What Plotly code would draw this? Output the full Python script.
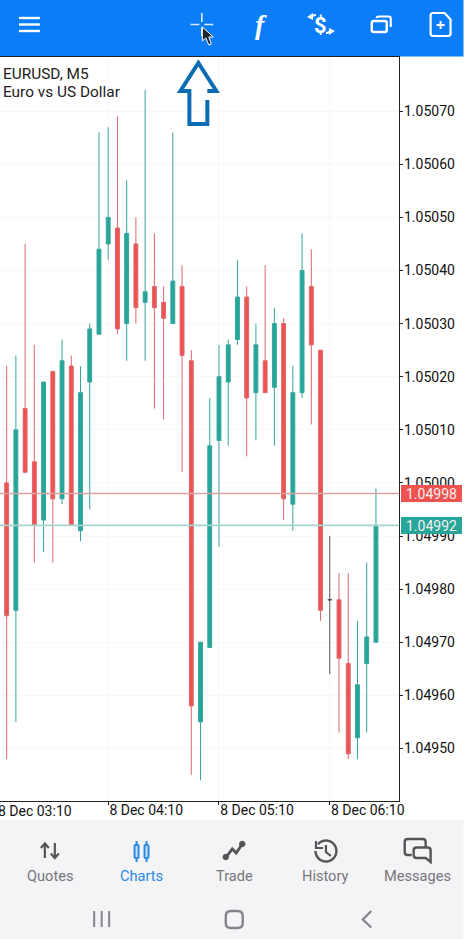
import re, math
import plotly.graph_objects as go

# ---------- chart data (EURUSD M5, 8 Dec) ----------
times = ["03:15","03:20","03:25","03:30","03:35","03:40","03:45","03:50","03:55","04:00",
         "04:05","04:10","04:15","04:20","04:25","04:30","04:35","04:40","04:45","04:50",
         "04:55","05:00","05:05","05:10","05:15","05:20","05:25","05:30","05:35","05:40",
         "05:45","05:50","05:55","06:00","06:05","06:10","06:15","06:20","06:25","06:30","06:35"]
opens = [1.05000,1.04976,1.05014,1.05004,1.04993,1.05021,1.04997,1.05022,1.04991,1.05019,
         1.05028,1.05045,1.05048,1.05030,1.05045,1.05034,1.05037,1.05034,1.05030,1.05037,
         1.05023,1.04955,1.04969,1.05008,1.05019,1.05027,1.05035,1.05017,1.05023,1.05018,
         1.05030,1.04996,1.05017,1.05037,1.05025,1.04978,1.04978,1.04966,1.04952,1.04966,1.04970]
highs = [1.05022,1.05024,1.05045,1.05026,1.05019,1.05021,1.05027,1.05024,1.05022,1.05030,
         1.05066,1.05067,1.05069,1.05057,1.05050,1.05074,1.05047,1.05037,1.05066,1.05041,
         1.05025,1.04970,1.05016,1.05026,1.05027,1.05042,1.05037,1.05030,1.05041,1.05033,
         1.05031,1.05022,1.05047,1.05044,1.05025,1.04990,1.04983,1.04983,1.04974,1.04985,1.04999]
lows  = [1.04948,1.04955,1.05002,1.04985,1.04987,1.04985,1.04996,1.04992,1.04989,1.04995,
         1.05028,1.05042,1.05028,1.05023,1.05030,1.05023,1.05014,1.05012,1.05030,1.05002,
         1.04945,1.04944,1.04969,1.04988,1.05007,1.05026,1.05005,1.05008,1.05017,1.05007,
         1.04993,1.04991,1.05016,1.05011,1.04974,1.04964,1.04953,1.04948,1.04948,1.04953,1.04970]
closes= [1.04975,1.05010,1.05002,1.04992,1.05019,1.04997,1.05023,1.04992,1.05017,1.05029,
         1.05044,1.05050,1.05029,1.05047,1.05033,1.05036,1.05033,1.05031,1.05038,1.05024,
         1.04958,1.04970,1.05007,1.05020,1.05026,1.05035,1.05016,1.05026,1.05017,1.05030,
         1.04997,1.05017,1.05040,1.05026,1.04976,1.04978,1.04967,1.04949,1.04962,1.04971,1.04992]
day = "2022-12-08 "
bid_price = 1.04998
ask_price = 1.04992
price_ticks = [1.04950,1.04960,1.04970,1.04980,1.04990,1.05000,1.05010,1.05020,1.05030,1.05040,1.05050,1.05060,1.05070]
time_ticks = ["04:10","05:10","06:10"]
time_tick_labels = ["8 Dec 04:10","8 Dec 05:10","8 Dec 06:10"]
clipped_time_label = "8 Dec 03:10"
nav_labels = ["Quotes","Charts","Trade","History","Messages"]

# ---------- page geometry ----------
W, H = 469, 939
XSPAN = 465.5        # horizontal pixels of the photographed app screen
UP, DOWN = "#26a69a", "#ef5350"
WICK_UP, WICK_DOWN = "#35a69b", "#e0656c"
FONT = "Roboto"

def fx(x): return x / XSPAN
def fy(y): return 1 - y / H
def path(s):
    return re.sub(r"(-?[\d.]+),(-?[\d.]+)", lambda m: f"{fx(float(m[1])):.5f},{fy(float(m[2])):.5f}", s)

shapes, annos = [], []
def stroke(s, color, width=2, fill=None):
    shapes.append(dict(type="path", xref="paper", yref="paper", path=path(s),
                       line=dict(color=color, width=width), fillcolor=fill, layer="above"))
def solid(s, color):
    shapes.append(dict(type="path", xref="paper", yref="paper", path=path(s),
                       line=dict(width=0), fillcolor=color, layer="above"))
def rect(x0, y0, x1, y1, color):
    shapes.append(dict(type="rect", xref="paper", yref="paper", x0=fx(x0), x1=fx(x1), y0=fy(y1), y1=fy(y0),
                       line=dict(width=0), fillcolor=color, layer="below"))
def text(x, y, t, size, color, anchor="left", family=FONT):
    annos.append(dict(xref="paper", yref="paper", x=fx(x), y=fy(y), text=t, showarrow=False, xanchor=anchor,
                      yanchor="middle", borderpad=0, borderwidth=0,
                      font=dict(family=family, size=size, color=color)))
def ring(cx, cy, r, a0, a1, n=24):
    pts = [(cx + r*math.cos(math.radians(a0 + (a1-a0)*i/n)), cy + r*math.sin(math.radians(a0 + (a1-a0)*i/n))) for i in range(n+1)]
    return "M" + " L".join(f"{a:.2f},{b:.2f}" for a, b in pts)
def rrect(x0, y0, x1, y1, r):
    return (f"M{x0+r},{y0} L{x1-r},{y0} Q{x1},{y0} {x1},{y0+r} L{x1},{y1-r} Q{x1},{y1} {x1-r},{y1} "
            f"L{x0+r},{y1} Q{x0},{y1} {x0},{y1-r} L{x0},{y0+r} Q{x0},{y0} {x0+r},{y0} Z")

# ---------- app chrome ----------
rect(0, 0, 465, 56.5, "#0b7df7")
rect(0, 820, 465, 939, "#f4f3f6")
for y in (18, 24.5, 31):
    stroke(f"M19,{y} L40,{y}", "#ffffff", 2.4)
# crosshair and pointer
stroke("M191,24.5 L200,24.5 M205,24.5 L214,24.5 M202.5,13 L202.5,22 M202.5,27 L202.5,36", "#dcebff", 1.6)
stroke("M203,27 L203,41 L206.5,38 L209.5,45 L212,44 L209.5,37 L214,37 Z", "#ffffff", 1, "#1c2430")
text(262, 24, "<b><i>f</i></b>", 28, "#ffffff", "center", "Liberation Serif")
text(322, 25, "<b>$</b>", 22, "#ffffff", "center")
stroke("M317,15 Q313,15 312,19", "#ffffff", 2.2)
solid("M308,17 L314,13 L314,20 Z", "#ffffff")
stroke("M327,33 Q331,33 332,29", "#ffffff", 2.2)
solid("M336,31 L330,35 L330,28 Z", "#ffffff")
stroke(rrect(373, 21, 388, 32, 2), "#ffffff", 2.4)
stroke("M378,18 Q378,16.5 380,16.5 L390,16.5 Q392,16.5 392,18.5 L392,27", "#ffffff", 2.2)
stroke("M434.5,13 L446,13 L452,19.5 L452,33.5 Q452,36 449.5,36 L434.5,36 Q432,36 432,33.5 L432,15.5 Q432,13 434.5,13 Z", "#ffffff", 2.2)
stroke("M442,21 L442,29 M438,25 L446,25", "#ffffff", 2)
# annotation arrow
stroke("M208,100 L208,124 L190,124 L190,91 L181,91 L199,63 L217,91 L208,91", "#0b6cb3", 4)
# symbol title
text(3, 74, "EURUSD, M5", 15.4, "#222222")
text(3, 92, "Euro vs US Dollar", 15.4, "#222222")

# ---------- bottom navigation ----------
GREY, BLUE = "#555558", "#2a8be0"
for x, label in zip((50, 142, 235, 327, 419), nav_labels):
    text(x, 876, label, 14.6, BLUE if label == "Charts" else "#77777b", "center")
stroke("M45,858 L45,844 M41,848 L45,843.5 L49,848", GREY, 2.2)
stroke("M55,843 L55,858 M51,853.5 L55,858 L59,853.5", GREY, 2.2)
stroke("M137,841 L137,862 M147,841 L147,862", BLUE, 2)
stroke(rrect(135, 845, 139, 858, 1), BLUE, 2, "#cfe4f8")
stroke(rrect(145, 845, 149, 858, 1), BLUE, 2, "#cfe4f8")
stroke("M227,857 L233,849 L237,853 L243,844", GREY, 2.8)
solid(ring(226.5, 857, 3.2, 0, 360) + " Z", GREY)
solid(ring(243, 844, 3.2, 0, 360) + " Z", GREY)
stroke(ring(327, 851, 10.5, -140, 180, 30), GREY, 2.4)
stroke("M317,841 L317,848 L324,848", GREY, 2.2)
stroke("M327,845 L327,852 L332,856", GREY, 2.2)
stroke("M413,855 L409,855 Q406,855 406,852 L406,842 Q406,839 409,839 L424,839 Q427,839 427,842 L427,847", GREY, 2.4)
stroke("M418,847.5 L429,847.5 Q432,847.5 432,850.5 L432,862 L427,858 L418,858 Q415,858 415,855 L415,850.5 Q415,847.5 418,847.5 Z", GREY, 2.4)
stroke("M94.5,911 L94.5,927 M102,911 L102,927 M109.5,911 L109.5,927", "#85858a", 2)
stroke(rrect(226.5, 911, 243.5, 928, 5), "#85858a", 2.4)
stroke("M372.5,911 L364,919.5 L372.5,927.5", "#85858a", 2.2)

# ---------- price lines and their tags (on the price axis scale) ----------
for price, color, line_color in ((bid_price, DOWN, "#d9a3a3"), (ask_price, UP, "#a4d6cf")):
    shapes.append(dict(type="line", xref="x", yref="y", x0=day + "03:00", x1=day + "06:50",
                       y0=price, y1=price, line=dict(color=line_color, width=1.6), layer="above"))
    annos.append(dict(xref="paper", yref="y", x=fx(402), y=price, text=f"{price:.5f}", showarrow=False,
                      xanchor="left", yanchor="middle", bgcolor=color, borderpad=1, borderwidth=0,
                      width=59, height=15, align="center",
                      font=dict(family=FONT, size=14, color="#f7eeee")))
annos.append(dict(xref="paper", yref="paper", x=fx(-2.5), y=fy(810.5), text=clipped_time_label, showarrow=False,
                  xanchor="left", yanchor="middle", borderpad=0, borderwidth=0,
                  font=dict(family=FONT, size=14, color="#111111")))

# ---------- candles ----------
x_vals = [day + t for t in times]
is_flat = [o == c for o, c in zip(opens, closes)]
def pick(values, flat):
    return [v for v, f in zip(values, is_flat) if f == flat]

fig = go.Figure()
fig.add_trace(go.Candlestick(
    x=pick(x_vals, False), open=pick(opens, False), high=pick(highs, False),
    low=pick(lows, False), close=pick(closes, False), whiskerwidth=0,
    increasing=dict(line=dict(color=WICK_UP, width=1), fillcolor=UP),
    decreasing=dict(line=dict(color=WICK_DOWN, width=1), fillcolor=DOWN), showlegend=False))
fig.add_trace(go.Candlestick(
    x=pick(x_vals, True), open=pick(opens, True), high=pick(highs, True),
    low=pick(lows, True), close=pick(closes, True), whiskerwidth=0,
    increasing=dict(line=dict(color="#555555", width=1), fillcolor="#555555"),
    decreasing=dict(line=dict(color="#555555", width=1), fillcolor="#555555"), showlegend=False))

fig.update_layout(
    width=W, height=H, margin=dict(l=0, r=0, t=0, b=0), autosize=False,
    paper_bgcolor="#ffffff", plot_bgcolor="#ffffff", showlegend=False,
    boxmode="overlay", boxgap=0.4, hovermode=False,
    shapes=shapes, annotations=annos,
    font=dict(family=FONT, color="#111111"),
    xaxis=dict(domain=[0, fx(400.5)], type="date", rangeslider=dict(visible=False),
               range=[day + "03:11:24", day + "06:47:36"],
               tickmode="array", tickvals=[day + t for t in time_ticks], ticktext=time_tick_labels,
               ticks="outside", ticklen=3, tickcolor="#222222", ticklabelshift=38, ticklabelstandoff=-6,
               tickfont=dict(family=FONT, size=14, color="#111111"),
               showline=True, linecolor="#222222", linewidth=1, mirror=True,
               showgrid=True, gridcolor="#f8f8f8", zeroline=False),
    yaxis=dict(domain=[fy(800.5), fy(57)], side="right", anchor="x",
               range=[1.049402, 1.050802],
               tickmode="array", tickvals=price_ticks, ticktext=[f"{p:.5f}" for p in price_ticks],
               ticks="outside", ticklen=3, tickcolor="#222222", ticklabelstandoff=-2,
               tickfont=dict(family=FONT, size=14, color="#111111"),
               showline=True, linecolor="#222222", linewidth=1,
               showgrid=True, gridcolor="#f8f8f8", zeroline=False),
)
fig.write_html("out.html", config=dict(displayModeBar=False),
               post_script="document.body.style.margin='0';")
